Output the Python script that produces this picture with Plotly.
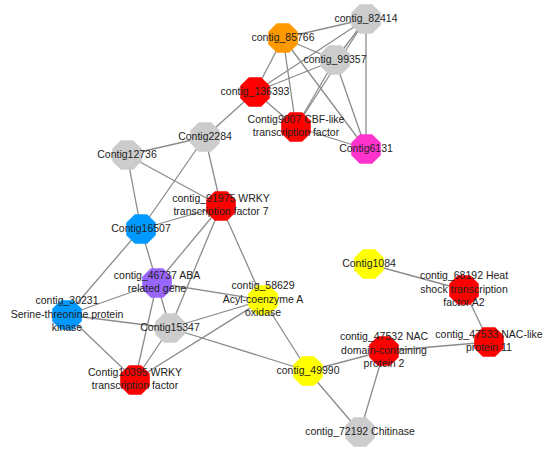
import plotly.graph_objects as go

# node names, labels, colours and layout positions (pixels of a 550x454 canvas)
node_ids = ["c82414", "c85766", "c99357", "c136393", "c9007", "c6131",
            "c2284", "c12736", "c91975", "c16507", "c46737", "c58629",
            "c30231", "c15347", "c10395", "c49990", "c1084", "c68192",
            "c47533", "c47532", "c72192"]
node_labels = ["contig_82414", "contig_85766", "contig_99357", "contig_136393",
               "Contig9007 CBF-like<br>transcription factor", "Contig6131",
               "Contig2284", "Contig12736",
               "contig_91975 WRKY<br>transcription factor 7", "Contig16507",
               "contig_46737 ABA<br>related gene",
               "contig_58629<br>Acyl-coenzyme A<br>oxidase",
               "contig_30231<br>Serine-threonine protein<br>kinase",
               "Contig15347", "Contig10395 WRKY<br>transcription factor",
               "contig_49990", "Contig1084",
               "contig_68192 Heat<br>shock transcription<br>factor A2",
               "contig_47533 NAC-like<br>protein 11",
               "contig_47532 NAC<br>domain-containing<br>protein 2",
               "contig_72192 Chitinase"]
node_x = [366, 283, 335, 255, 296, 366, 205, 127, 221, 141, 157, 263,
          67, 170, 135, 308, 369, 464, 489, 384, 360]
node_y = [19, 38, 60, 92, 127, 149, 137, 155, 206, 229, 283, 300,
          315, 328, 380, 371, 264, 290, 342, 351, 432]
node_colors = ["#cccccc", "#ff9900", "#cccccc", "#ff0000", "#ff0000", "#ff33cc",
               "#cccccc", "#cccccc", "#ff0000", "#0099ff", "#9966ff", "#ffff00",
               "#0099ff", "#cccccc", "#ff0000", "#ffff00", "#ffff00", "#ff0000",
               "#ff0000", "#ff0000", "#cccccc"]

edges = [("c85766", "c82414"), ("c85766", "c99357"), ("c85766", "c136393"),
         ("c85766", "c9007"), ("c85766", "c6131"), ("c136393", "c82414"),
         ("c136393", "c99357"), ("c136393", "c9007"), ("c136393", "c2284"),
         ("c82414", "c99357"), ("c82414", "c9007"), ("c99357", "c9007"),
         ("c99357", "c6131"), ("c82414", "c6131"), ("c9007", "c6131"),
         ("c2284", "c12736"), ("c2284", "c16507"), ("c2284", "c91975"),
         ("c12736", "c16507"), ("c12736", "c91975"), ("c16507", "c91975"),
         ("c16507", "c46737"), ("c16507", "c30231"), ("c91975", "c46737"),
         ("c91975", "c15347"), ("c91975", "c58629"), ("c46737", "c30231"),
         ("c46737", "c58629"), ("c46737", "c15347"), ("c46737", "c10395"),
         ("c15347", "c30231"), ("c15347", "c58629"), ("c15347", "c10395"),
         ("c15347", "c49990"), ("c10395", "c30231"), ("c10395", "c58629"),
         ("c58629", "c49990"), ("c49990", "c47532"), ("c49990", "c72192"),
         ("c47532", "c72192"), ("c47532", "c47533"), ("c47533", "c68192"),
         ("c68192", "c1084")]

pos = {n: (x, y) for n, x, y in zip(node_ids, node_x, node_y)}
ex, ey = [], []
for a, b in edges:
    ex += [pos[a][0], pos[b][0], None]
    ey += [pos[a][1], pos[b][1], None]

fig = go.Figure()
fig.add_trace(go.Scatter(x=ex, y=ey, mode="lines",
                         line=dict(color="#8c8c8c", width=1.3),
                         hoverinfo="skip", cliponaxis=False))
fig.add_trace(go.Scatter(x=node_x, y=node_y, mode="markers+text",
                         marker=dict(symbol="octagon", size=32, color=node_colors,
                                     line=dict(width=0)),
                         text=node_labels, textposition="middle center",
                         textfont=dict(family="Arial, Liberation Sans", size=10.5,
                                       color="#222222"),
                         hoverinfo="skip", cliponaxis=False))

fig.update_layout(width=550, height=454, margin=dict(l=0, r=0, t=0, b=0),
                  paper_bgcolor="white", plot_bgcolor="white", showlegend=False,
                  hovermode=False,
                  xaxis=dict(range=[0, 550], visible=False),
                  yaxis=dict(range=[454, 0], visible=False))
# page body has a default 8px margin; drop it so the figure sits at the corner
fig.write_html("out.html", config={"displayModeBar": False},
               post_script="document.body.style.margin='0';")
